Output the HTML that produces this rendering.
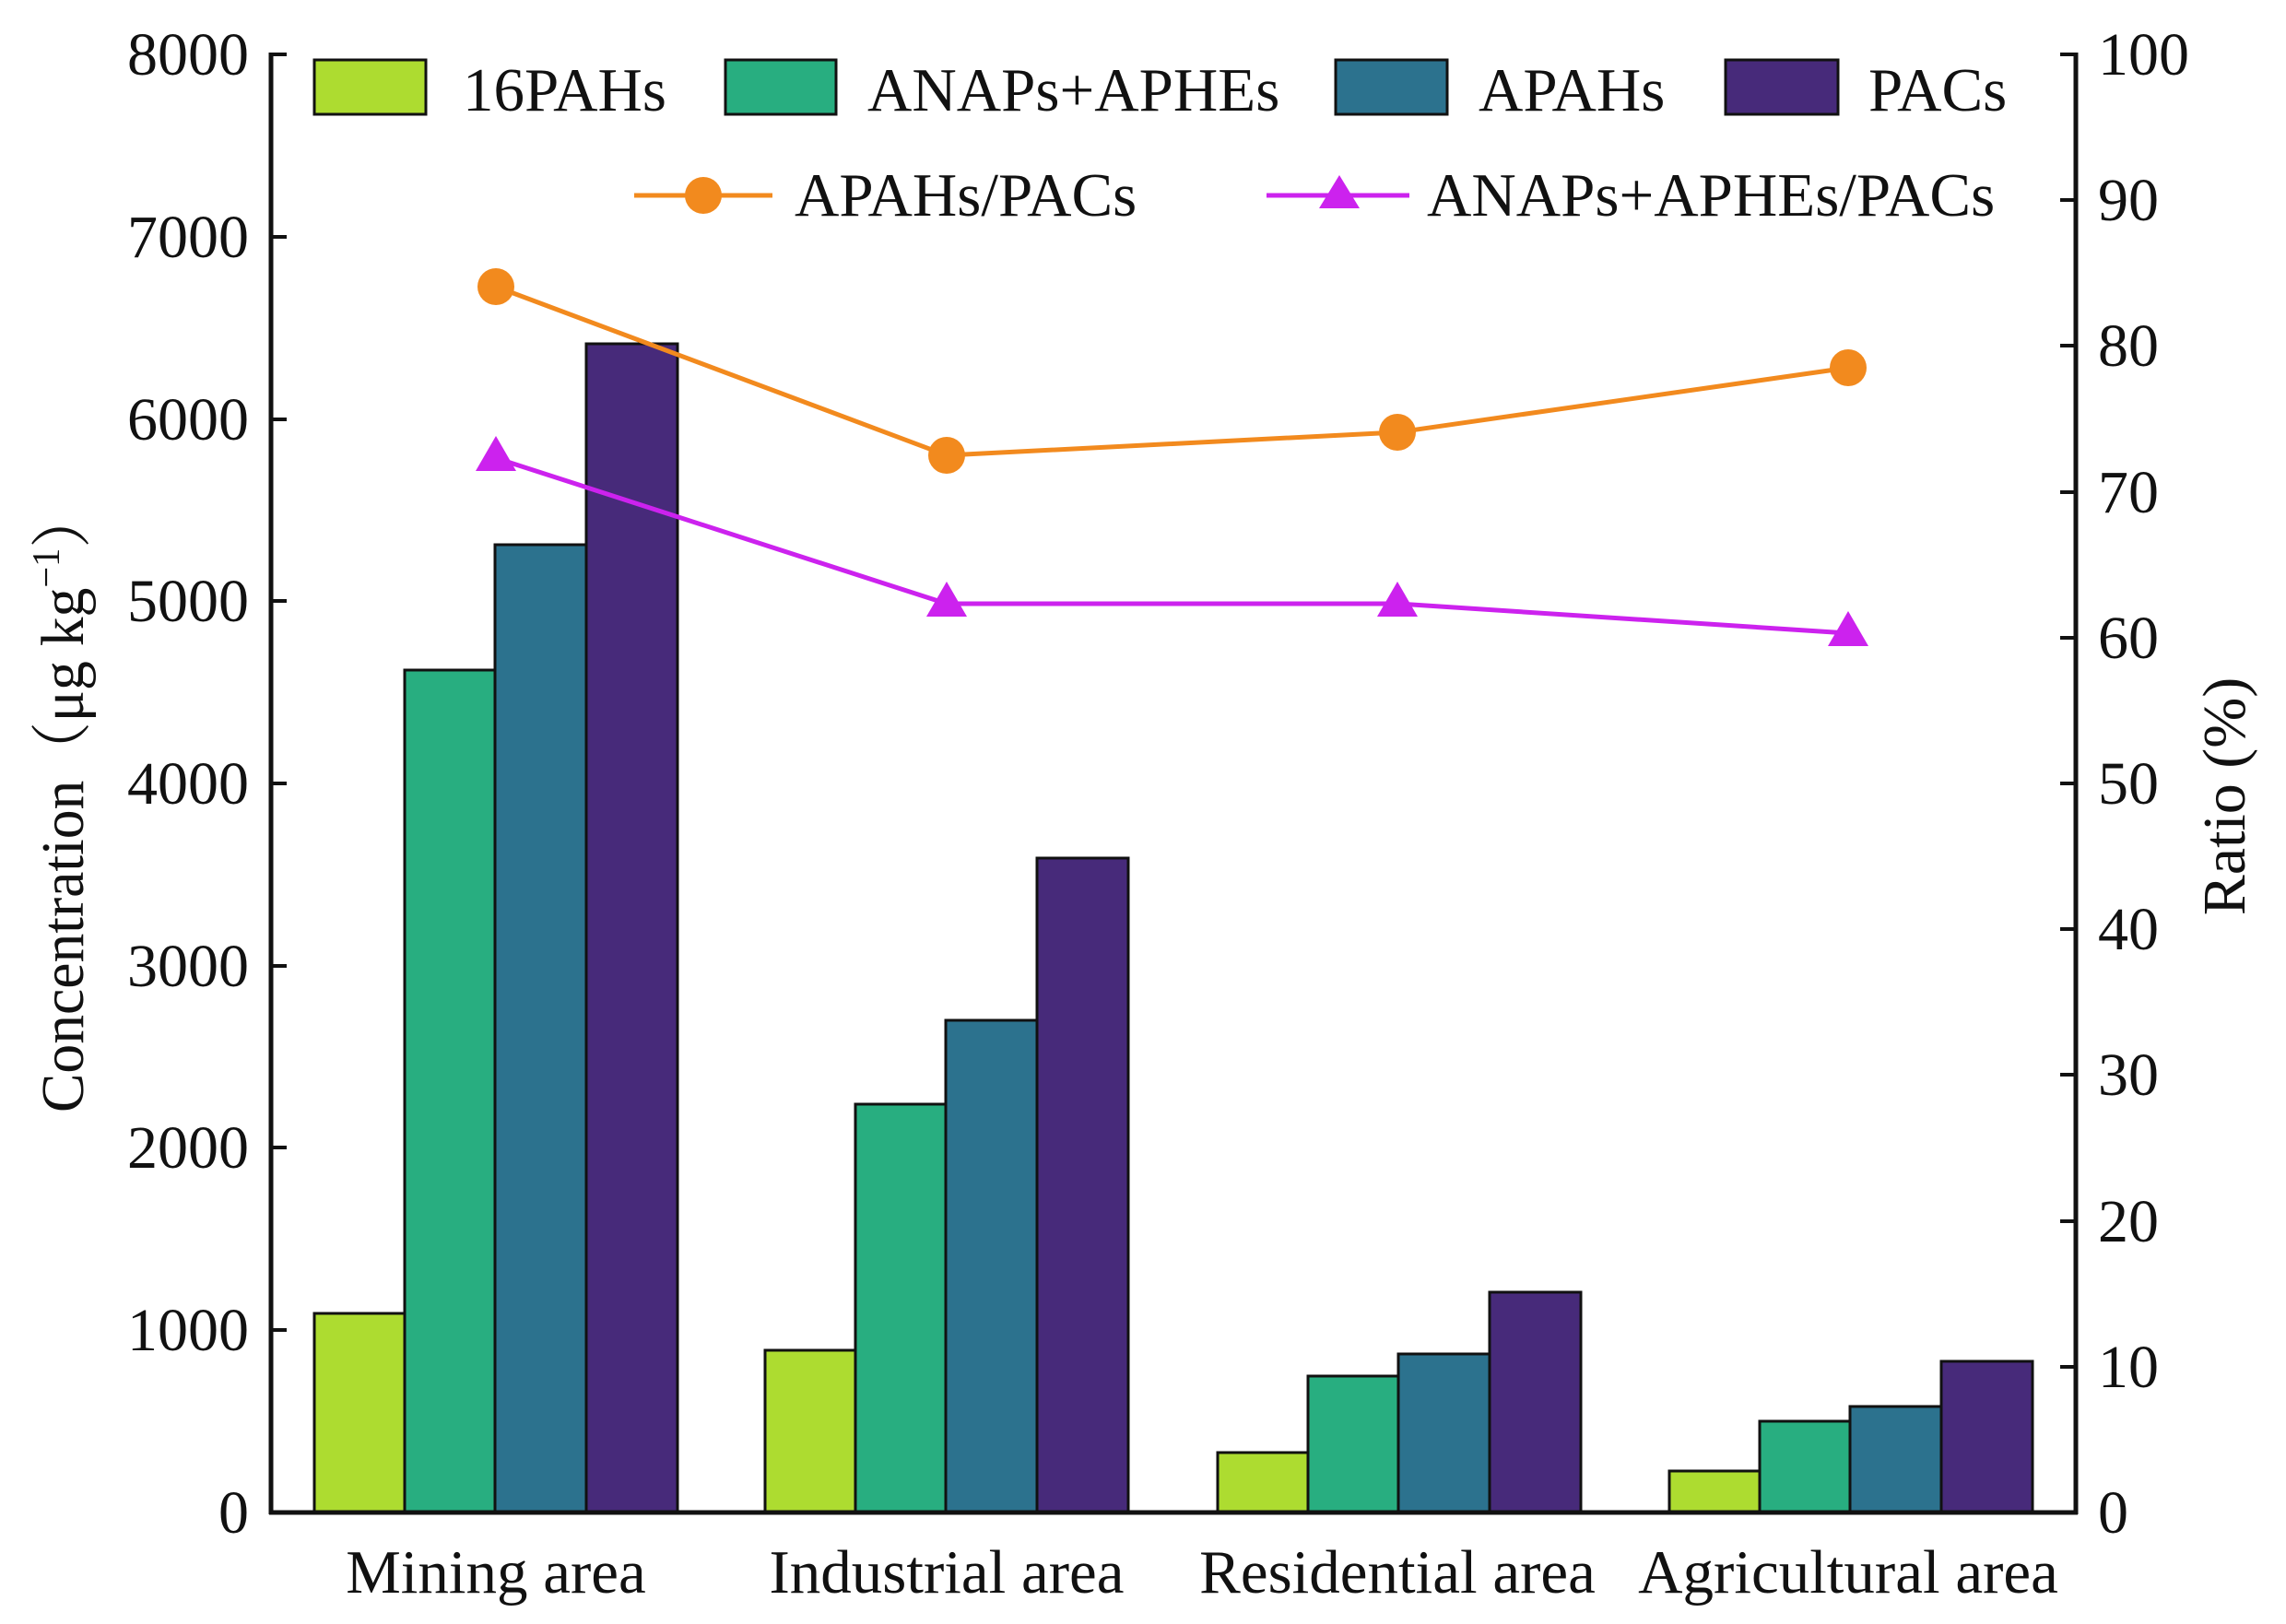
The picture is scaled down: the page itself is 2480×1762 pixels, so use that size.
<!DOCTYPE html>
<html><head><meta charset="utf-8"><style>
html,body{margin:0;padding:0;background:#fff;}
svg{display:block;}
text{font-family:"Liberation Serif","Noto Serif CJK SC",serif;fill:#111;}
</style></head><body>
<svg width="2480" height="1762" viewBox="0 0 2480 1762" xmlns="http://www.w3.org/2000/svg">
<g stroke="#111" stroke-width="3">
<rect x="341" y="1425" width="98" height="216" fill="#addc30"/>
<rect x="439" y="727" width="98" height="914" fill="#28ae80"/>
<rect x="537" y="591" width="99" height="1050" fill="#2c728e"/>
<rect x="636" y="373" width="99" height="1268" fill="#472a7a"/>
<rect x="830" y="1465" width="98" height="176" fill="#addc30"/>
<rect x="928" y="1198" width="98" height="443" fill="#28ae80"/>
<rect x="1026" y="1107" width="99" height="534" fill="#2c728e"/>
<rect x="1125" y="931" width="99" height="710" fill="#472a7a"/>
<rect x="1321" y="1576" width="98" height="65" fill="#addc30"/>
<rect x="1419" y="1493" width="98" height="148" fill="#28ae80"/>
<rect x="1517" y="1469" width="99" height="172" fill="#2c728e"/>
<rect x="1616" y="1402" width="99" height="239" fill="#472a7a"/>
<rect x="1811" y="1596" width="98" height="45" fill="#addc30"/>
<rect x="1909" y="1542" width="98" height="99" fill="#28ae80"/>
<rect x="2007" y="1526" width="99" height="115" fill="#2c728e"/>
<rect x="2106" y="1477" width="99" height="164" fill="#472a7a"/>
</g>
<polyline points="538,311 1027,494 1516,469 2005,399" fill="none" stroke="#f28a1e" stroke-width="5"/>
<polyline points="538,497 1027,655 1516,655 2005,687" fill="none" stroke="#cc22ee" stroke-width="5"/>
<g fill="#f28a1e">
<circle cx="538" cy="311" r="20"/><circle cx="1027" cy="494" r="20"/><circle cx="1516" cy="469" r="20"/><circle cx="2005" cy="399" r="20"/>
</g>
<g fill="#cc22ee">
<polygon points="538,473 516,511 560,511"/><polygon points="1027,631 1005,669 1049,669"/><polygon points="1516,631 1494,669 1538,669"/><polygon points="2005,663 1983,701 2027,701"/>
</g>
<g stroke="#111" stroke-width="5" fill="none">
<line x1="294" y1="57" x2="294" y2="1643"/>
<line x1="2252" y1="57" x2="2252" y2="1643"/>
<line x1="292" y1="1641" x2="2254" y2="1641"/>
</g>
<g stroke="#111" stroke-width="4">
<line x1="294" y1="59" x2="311" y2="59"/><line x1="294" y1="257" x2="311" y2="257"/><line x1="294" y1="455" x2="311" y2="455"/><line x1="294" y1="652" x2="311" y2="652"/><line x1="294" y1="850" x2="311" y2="850"/><line x1="294" y1="1048" x2="311" y2="1048"/><line x1="294" y1="1245" x2="311" y2="1245"/><line x1="294" y1="1443" x2="311" y2="1443"/>
<line x1="2235" y1="59" x2="2252" y2="59"/><line x1="2235" y1="217" x2="2252" y2="217"/><line x1="2235" y1="375" x2="2252" y2="375"/><line x1="2235" y1="534" x2="2252" y2="534"/><line x1="2235" y1="692" x2="2252" y2="692"/><line x1="2235" y1="850" x2="2252" y2="850"/><line x1="2235" y1="1008" x2="2252" y2="1008"/><line x1="2235" y1="1166" x2="2252" y2="1166"/><line x1="2235" y1="1325" x2="2252" y2="1325"/><line x1="2235" y1="1483" x2="2252" y2="1483"/>
</g>
<g font-size="66" text-anchor="end">
<text x="270" y="81">8000</text><text x="270" y="279">7000</text><text x="270" y="477">6000</text><text x="270" y="674">5000</text><text x="270" y="872">4000</text><text x="270" y="1070">3000</text><text x="270" y="1267">2000</text><text x="270" y="1465">1000</text><text x="270" y="1663">0</text>
</g>
<g font-size="66" text-anchor="start">
<text x="2276" y="81">100</text><text x="2276" y="239">90</text><text x="2276" y="397">80</text><text x="2276" y="556">70</text><text x="2276" y="714">60</text><text x="2276" y="872">50</text><text x="2276" y="1030">40</text><text x="2276" y="1188">30</text><text x="2276" y="1347">20</text><text x="2276" y="1505">10</text><text x="2276" y="1663">0</text>
</g>
<g font-size="67" text-anchor="middle">
<text x="538" y="1728">Mining area</text><text x="1027" y="1728">Industrial area</text><text x="1516" y="1728">Residential area</text><text x="2005" y="1728">Agricultural area</text>
</g>
<text transform="translate(90,869) rotate(-90)" font-size="66" text-anchor="middle" textLength="676" lengthAdjust="spacingAndGlyphs">Concentration（μg kg<tspan font-size="42" dy="-26">−1</tspan><tspan dy="26">）</tspan></text>
<text transform="translate(2435,864) rotate(-90)" font-size="66" text-anchor="middle">Ratio (%)</text>
<g stroke="#111" stroke-width="3">
<rect x="341" y="65" width="121" height="59" fill="#addc30"/>
<rect x="787" y="65" width="120" height="59" fill="#28ae80"/>
<rect x="1449" y="65" width="121" height="59" fill="#2c728e"/>
<rect x="1872" y="65" width="122" height="59" fill="#472a7a"/>
</g>
<g font-size="67">
<text x="502" y="120">16PAHs</text>
<text x="941" y="120">ANAPs+APHEs</text>
<text x="1604" y="120">APAHs</text>
<text x="2027" y="120">PACs</text>
<text x="862" y="234">APAHs/PACs</text>
<text x="1548" y="234">ANAPs+APHEs/PACs</text>
</g>
<line x1="688" y1="212" x2="838" y2="212" stroke="#f28a1e" stroke-width="5"/>
<circle cx="763" cy="212" r="20" fill="#f28a1e"/>
<line x1="1374" y1="212" x2="1529" y2="212" stroke="#cc22ee" stroke-width="5"/>
<polygon points="1453,190 1431,226 1475,226" fill="#cc22ee"/>
</svg>
</body></html>
